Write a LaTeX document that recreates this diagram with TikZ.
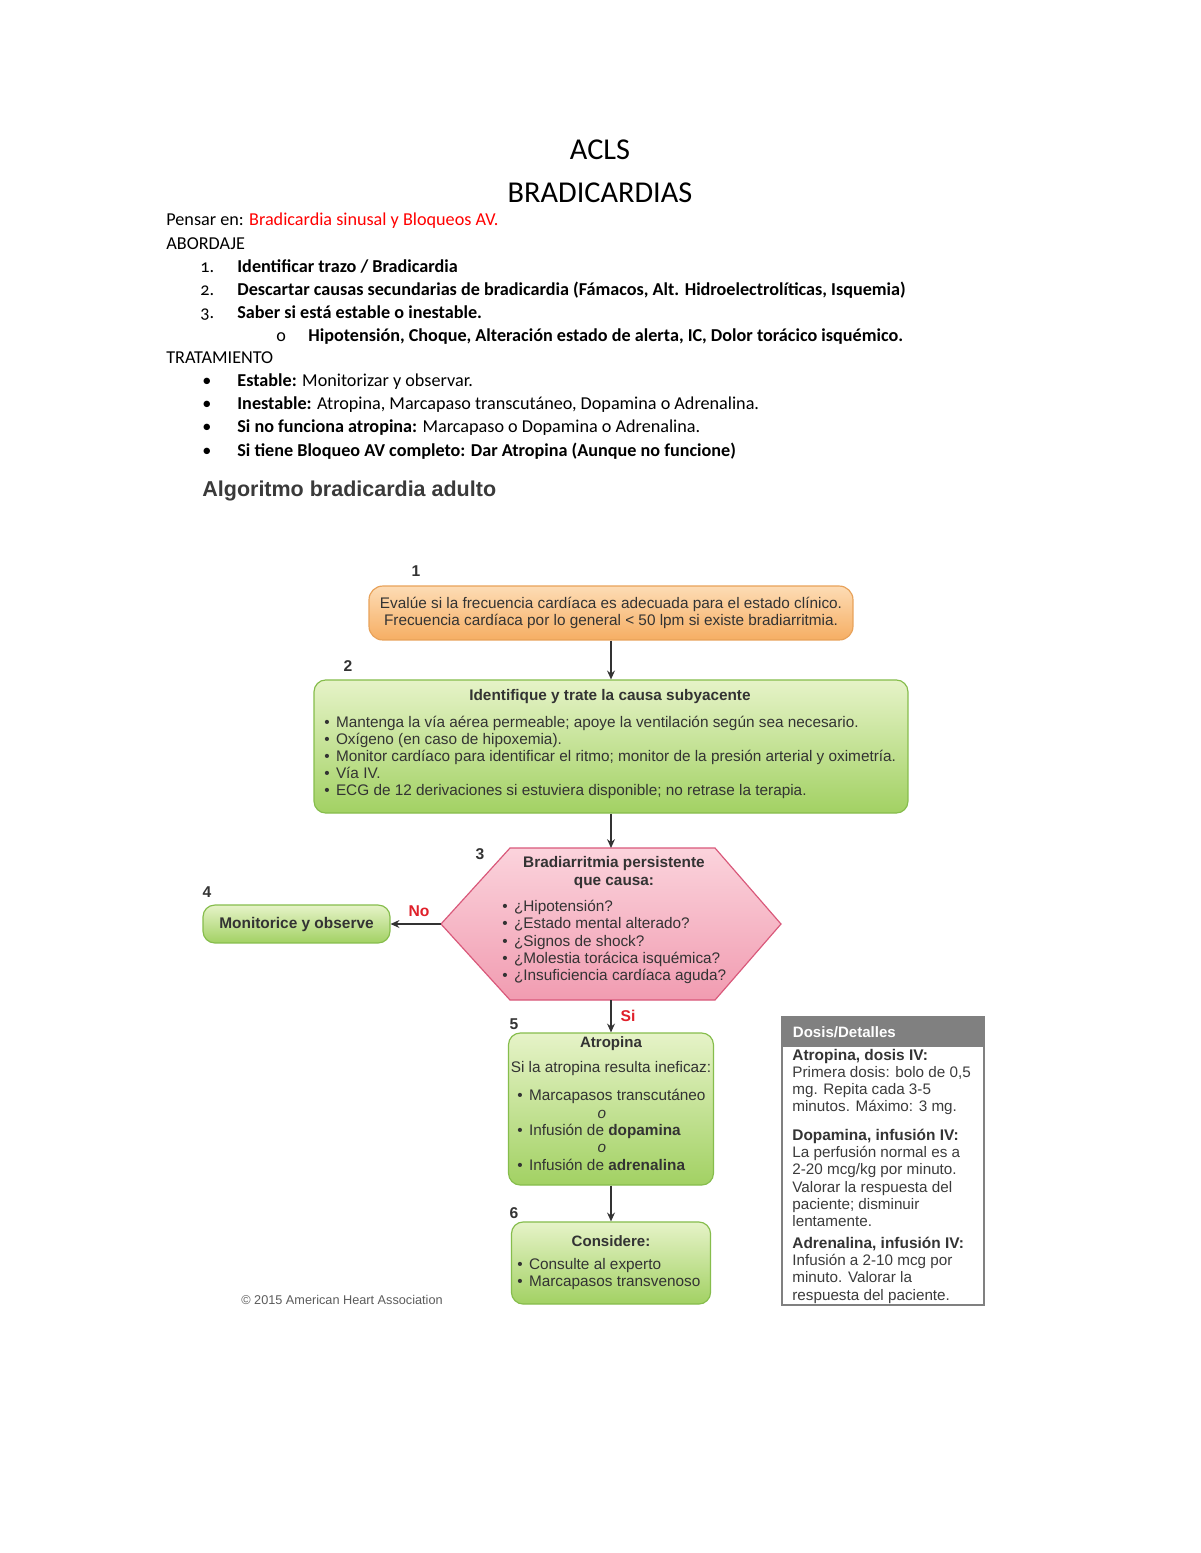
\documentclass[tikz,border=0pt]{standalone}
\usepackage{fontspec}
\setmainfont{Carlito}
\newfontfamily\docfont{Carlito}
\newfontfamily\docnum[Numbers=OldStyle]{Carlito}
\newfontfamily\aha{Liberation Sans}
\usetikzlibrary{
  arrows.meta,
  positioning,
  calc
}
\definecolor{ahaText}{HTML}{333333}
\definecolor{ahaTitle}{HTML}{3A3A3A}
\definecolor{ahaOrgTop}{HTML}{FDDCB5}
\definecolor{ahaOrgBot}{HTML}{F6AE63}
\definecolor{ahaOrgLine}{HTML}{E8A25A}
\definecolor{ahaGrnTop}{HTML}{E6F3C8}
\definecolor{ahaGrnBot}{HTML}{A2D163}
\definecolor{ahaGrnLine}{HTML}{86BD4C}
\definecolor{ahaPnkTop}{HTML}{FBD3DC}
\definecolor{ahaPnkBot}{HTML}{F19CB1}
\definecolor{ahaPnkLine}{HTML}{D9587A}
\definecolor{ahaGray}{HTML}{808080}
\definecolor{ahaRed}{HTML}{E0202A}
\definecolor{docRed}{HTML}{FF0000}
\newcommand{\ahabul}{\textbullet\hspace{3.2pt}}
\tikzset{
  doctxt/.style={anchor=base west, inner sep=0pt, font=\docfont\fontsize{9.3}{11}\selectfont},
  docbold/.style={doctxt, font=\docfont\bfseries\fontsize{9.3}{11}\selectfont},
  docnumber/.style={doctxt, font=\docnum\fontsize{9.3}{11}\selectfont},
  doctitle/.style={anchor=base, inner sep=0pt, font=\docfont\fontsize{15.5}{17}\selectfont},
  ahatxt/.style={inner sep=0pt, text=ahaText, align=left, font=\aha\fontsize{7.85}{8.8}\selectfont},
  ahabold/.style={ahatxt, align=center, font=\aha\bfseries\fontsize{7.85}{8.8}\selectfont},
  ahabig/.style={ahatxt, font=\aha\fontsize{7.85}{8.9}\selectfont},
  stepnum/.style={inner sep=0pt, text=ahaText, font=\aha\bfseries\fontsize{8}{9}\selectfont},
  answer/.style={inner sep=0pt, text=ahaRed, font=\aha\bfseries\fontsize{8}{9}\selectfont},
  ahabox/.style={line width=0.6pt, rounded corners=6pt, inner sep=0pt},
  orangebox/.style={ahabox, draw=ahaOrgLine, top color=ahaOrgTop, bottom color=ahaOrgBot, rounded corners=7pt},
  greenbox/.style={ahabox, draw=ahaGrnLine, top color=ahaGrnTop, bottom color=ahaGrnBot},
  pinkhex/.style={line width=0.6pt, draw=ahaPnkLine, top color=ahaPnkTop, bottom color=ahaPnkBot},
  flow/.style={-{Stealth[length=4.5pt, width=4pt]}, line width=0.8pt, ahaText},
  dosishead/.style={fill=ahaGray, inner xsep=5.6pt, text width=92.2pt, minimum height=15.4pt,
    align=left, text=white, font=\aha\bfseries\fontsize{7.7}{8.8}\selectfont},
  dosisbox/.style={draw=ahaGray, line width=0.6pt, minimum width=103.4pt, minimum height=147.4pt},
  dosistxt/.style={anchor=west, inner sep=0pt, align=left, text=ahaText!90!gray,
    font=\aha\fontsize{7.8}{8.85}\selectfont}
}

\begin{document}
\begin{tikzpicture}[x=0.51183pt, y=-0.51183pt]
  \fill[white] (0,0) rectangle (1200,1553);
  \useasboundingbox (0,0) rectangle (1200,1553);

  % text of the page
  \node[doctitle] (acls) at (600,159.5) {ACLS};
  \node[doctitle] (brady) at (600,202) {BRADICARDIAS};
  \node[doctxt] (pensar) at (166,225.5) {Pensar en: \textcolor{docRed}{Bradicardia sinusal y Bloqueos AV.}};
  \node[doctxt] (abordaje) at (166,249) {ABORDAJE};
  \node[docnumber] (n1) at (200,272) {1.};
  \node[docbold] (ab1) at (237,272) {Identificar trazo / Bradicardia};
  \node[docnumber] (n2) at (200,295.5) {2.};
  \node[docbold] (ab2) at (237,295.5) {Descartar causas secundarias de bradicardia (Fámacos, Alt. Hidroelectrolíticas, Isquemia)};
  \node[docnumber] (n3) at (200,318.5) {3.};
  \node[docbold] (ab3) at (237,318.5) {Saber si está estable o inestable.};
  \node[doctxt] (o1) at (276,341) {o};
  \node[docbold] (ab3a) at (308,341) {Hipotensión, Choque, Alteración estado de alerta, IC, Dolor torácico isquémico.};
  \node[doctxt] (trat) at (166,363) {TRATAMIENTO};
  \node[doctxt] (d1) at (202,386) {\textbullet};
  \node[doctxt] (tr1) at (237,386) {\textbf{Estable:} Monitorizar y observar.};
  \node[doctxt] (d2) at (202,409) {\textbullet};
  \node[doctxt] (tr2) at (237,409) {\textbf{Inestable:} Atropina, Marcapaso transcutáneo, Dopamina o Adrenalina.};
  \node[doctxt] (d3) at (202,432.5) {\textbullet};
  \node[doctxt] (tr3) at (237,432.5) {\textbf{Si no funciona atropina:} Marcapaso o Dopamina o Adrenalina.};
  \node[doctxt] (d4) at (202,456) {\textbullet};
  \node[docbold] (tr4) at (237,456) {Si tiene Bloqueo AV completo: Dar Atropina (Aunque no funcione)};
  \node[anchor=base west, inner sep=0pt, text=ahaTitle, font=\aha\bfseries\fontsize{11}{13}\selectfont]
    (algo) at (202,496) {Algoritmo bradicardia adulto};

  % algorithm
  \node[stepnum] (s1) at (416,571) {1};
  \node[orangebox, minimum width=247.7pt, minimum height=27.6pt] (b1) at (611,613) {};
  \node[ahatxt, align=center] (b1t) at (b1.center)
    {Evalúe si la frecuencia cardíaca es adecuada para el estado clínico.\\
     Frecuencia cardíaca por lo general < 50 lpm si existe bradiarritmia.};

  \node[stepnum] (s2) at (348,666) {2};
  \node[greenbox, minimum width=304pt, minimum height=68.1pt] (b2) at (611,746.5) {};
  \node[ahabold] (b2t) at (610,697) {Identifique y trate la causa subyacente};
  \node[ahatxt, anchor=west] (b2l) at (324,757.5)
    {\ahabul Mantenga la vía aérea permeable; apoye la ventilación según sea necesario.\\
     \ahabul Oxígeno (en caso de hipoxemia).\\
     \ahabul Monitor cardíaco para identificar el ritmo; monitor de la presión arterial y oximetría.\\
     \ahabul Vía IV.\\
     \ahabul ECG de 12 derivaciones si estuviera disponible; no retrase la terapia.};

  \node[stepnum] (s3) at (480,854) {3};
  \draw[pinkhex] (510,848) -- (715,848) -- (781,924) -- (715,1000) -- (510,1000) -- (441,924) -- cycle;
  \coordinate (hexN) at (611,848);
  \coordinate (hexS) at (611,1000);
  \coordinate (hexW) at (441,924);
  \node[ahabold] (b3t) at (614,872.5) {Bradiarritmia persistente\\que causa:};
  \node[ahatxt, anchor=west] (b3l) at (502,942)
    {\ahabul ¿Hipotensión?\\
     \ahabul ¿Estado mental alterado?\\
     \ahabul ¿Signos de shock?\\
     \ahabul ¿Molestia torácica isquémica?\\
     \ahabul ¿Insuficiencia cardíaca aguda?};

  \node[stepnum] (s4) at (207,892) {4};
  \node[greenbox, minimum width=95.7pt, minimum height=19.4pt, font=\aha\bfseries\fontsize{7.9}{8.8}\selectfont, text=ahaText]
    (b4) at (296.5,924) {Monitorice y observe};

  \node[stepnum] (s5) at (514,1024) {5};
  \node[greenbox, minimum width=104.9pt, minimum height=77.8pt] (b5) at (611,1109) {};
  \node[ahabold, font=\aha\bfseries\fontsize{7.7}{8.8}\selectfont] (b5t) at (611,1044) {Atropina};
  \node[ahabig] (b5s) at (611,1069) {Si la atropina resulta ineficaz:};
  \node[ahabig, anchor=west] (b5l) at (517,1130)
    {\ahabul Marcapasos transcutáneo\\
     \hspace*{41pt}\textit{o}\\
     \ahabul Infusión de \textbf{dopamina}\\
     \hspace*{41pt}\textit{o}\\
     \ahabul Infusión de \textbf{adrenalina}};

  \node[stepnum] (s6) at (514,1213) {6};
  \node[greenbox, minimum width=101.9pt, minimum height=42pt] (b6) at (611,1263) {};
  \node[ahabold, font=\aha\bfseries\fontsize{7.7}{9}\selectfont] (b6t) at (611,1241) {Considere:};
  \node[ahabig, anchor=west] (b6l) at (517,1274)
    {\ahabul Consulte al experto\\
     \ahabul Marcapasos transvenoso};

  \node[inner sep=0pt, text=ahaText!80, font=\aha\fontsize{6.5}{7}\selectfont] (aha) at (342,1300)
    {© 2015 American Heart Association};

  \draw[flow] (b1.south) -- (b2.north);
  \draw[flow] (b2.south) -- (hexN);
  \draw[flow] (hexW) -- (b4.east);
  \draw[flow] (hexS) -- (b5.north);
  \draw[flow] (b5.south) -- (b6.north);
  \node[answer] (no) at (419,911) {No};
  \node[answer] (si) at (628,1016) {Si};

  % doses
  \node[dosisbox] (dosis) at (883,1161) {};
  \node[dosishead] (dhead) at (883,1032) {Dosis/Detalles};
  \node[dosistxt] (dat) at (792,1082)
    {\textcolor{ahaText}{\bfseries\fontsize{7.9}{8.85}\selectfont Atropina, dosis IV:}\\
     Primera dosis: bolo de 0,5\\
     mg. Repita cada 3-5\\
     minutos. Máximo: 3 mg.};
  \node[dosistxt] (ddo) at (792,1178)
    {\textcolor{ahaText}{\bfseries\fontsize{7.9}{8.85}\selectfont Dopamina, infusión IV:}\\
     La perfusión normal es a\\
     2-20 mcg/kg por minuto.\\
     Valorar la respuesta del\\
     paciente; disminuir\\
     lentamente.};
  \node[dosistxt] (dad) at (792,1270)
    {\textcolor{ahaText}{\bfseries\fontsize{7.9}{8.85}\selectfont Adrenalina, infusión IV:}\\
     Infusión a 2-10 mcg por\\
     minuto. Valorar la\\
     respuesta del paciente.};
\end{tikzpicture}
\end{document}
